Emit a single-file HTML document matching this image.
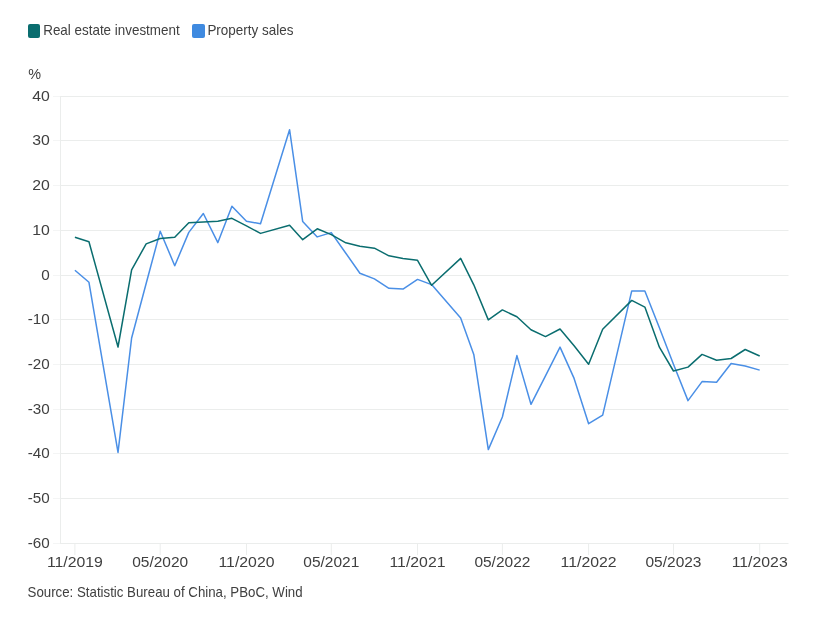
<!DOCTYPE html>
<html><head><meta charset="utf-8"><style>
html,body{margin:0;padding:0;background:#fff;}
body{width:817px;height:618px;overflow:hidden;position:relative;font-family:"Liberation Sans",Arial,sans-serif;color:#333;}
svg{position:absolute;left:0;top:0;will-change:transform;}
.g{stroke:#ebedec;stroke-width:1;}
.gt{stroke:#f4f5f5;stroke-width:1;}
text{font-family:"Liberation Sans",Arial,sans-serif;fill:#404040;}
.yl{font-size:14.4px;text-anchor:end;}
.xl{font-size:14.4px;text-anchor:middle;}
.lg{font-size:14.4px;}
</style></head><body>
<svg width="817" height="618" viewBox="0 0 817 618">
<rect x="28" y="24" width="12" height="14" rx="2" fill="#0a6d6f"/>
<text x="43.2" y="34.9" class="lg" textLength="136.5" lengthAdjust="spacingAndGlyphs">Real estate investment</text>
<rect x="192" y="24" width="13" height="14" rx="2" fill="#3f8ae0"/>
<text x="207.4" y="34.9" class="lg" textLength="86" lengthAdjust="spacingAndGlyphs">Property sales</text>
<text x="28.2" y="78.8" class="lg" textLength="12.8" lengthAdjust="spacingAndGlyphs">%</text>
<line x1="60" y1="96.5" x2="788.5" y2="96.5" class="g"/><line x1="53" y1="96.5" x2="60" y2="96.5" class="gt"/>
<line x1="60" y1="140.5" x2="788.5" y2="140.5" class="g"/><line x1="53" y1="140.5" x2="60" y2="140.5" class="gt"/>
<line x1="60" y1="185.5" x2="788.5" y2="185.5" class="g"/><line x1="53" y1="185.5" x2="60" y2="185.5" class="gt"/>
<line x1="60" y1="230.5" x2="788.5" y2="230.5" class="g"/><line x1="53" y1="230.5" x2="60" y2="230.5" class="gt"/>
<line x1="60" y1="275.5" x2="788.5" y2="275.5" class="g"/><line x1="53" y1="275.5" x2="60" y2="275.5" class="gt"/>
<line x1="60" y1="319.5" x2="788.5" y2="319.5" class="g"/><line x1="53" y1="319.5" x2="60" y2="319.5" class="gt"/>
<line x1="60" y1="364.5" x2="788.5" y2="364.5" class="g"/><line x1="53" y1="364.5" x2="60" y2="364.5" class="gt"/>
<line x1="60" y1="409.5" x2="788.5" y2="409.5" class="g"/><line x1="53" y1="409.5" x2="60" y2="409.5" class="gt"/>
<line x1="60" y1="453.5" x2="788.5" y2="453.5" class="g"/><line x1="53" y1="453.5" x2="60" y2="453.5" class="gt"/>
<line x1="60" y1="498.5" x2="788.5" y2="498.5" class="g"/><line x1="53" y1="498.5" x2="60" y2="498.5" class="gt"/>
<line x1="60" y1="543.5" x2="788.5" y2="543.5" class="g"/><line x1="53" y1="543.5" x2="60" y2="543.5" class="gt"/>

<line x1="60.5" y1="96" x2="60.5" y2="544" class="g"/>
<line x1="74.9" y1="544" x2="74.9" y2="555" class="g"/>
<line x1="160.2" y1="544" x2="160.2" y2="555" class="g"/>
<line x1="246.5" y1="544" x2="246.5" y2="555" class="g"/>
<line x1="331.3" y1="544" x2="331.3" y2="555" class="g"/>
<line x1="417.5" y1="544" x2="417.5" y2="555" class="g"/>
<line x1="502.4" y1="544" x2="502.4" y2="555" class="g"/>
<line x1="588.6" y1="544" x2="588.6" y2="555" class="g"/>
<line x1="673.5" y1="544" x2="673.5" y2="555" class="g"/>
<line x1="759.7" y1="544" x2="759.7" y2="555" class="g"/>

<text x="49.8" y="101.0" class="yl" textLength="17.6" lengthAdjust="spacingAndGlyphs">40</text>
<text x="49.8" y="145.0" class="yl" textLength="17.6" lengthAdjust="spacingAndGlyphs">30</text>
<text x="49.8" y="190.0" class="yl" textLength="17.6" lengthAdjust="spacingAndGlyphs">20</text>
<text x="49.8" y="235.0" class="yl" textLength="17.6" lengthAdjust="spacingAndGlyphs">10</text>
<text x="49.8" y="280.0" class="yl" textLength="8.5" lengthAdjust="spacingAndGlyphs">0</text>
<text x="49.8" y="324.0" class="yl" textLength="22.0" lengthAdjust="spacingAndGlyphs">-10</text>
<text x="49.8" y="369.0" class="yl" textLength="22.0" lengthAdjust="spacingAndGlyphs">-20</text>
<text x="49.8" y="414.0" class="yl" textLength="22.0" lengthAdjust="spacingAndGlyphs">-30</text>
<text x="49.8" y="458.0" class="yl" textLength="22.0" lengthAdjust="spacingAndGlyphs">-40</text>
<text x="49.8" y="503.0" class="yl" textLength="22.0" lengthAdjust="spacingAndGlyphs">-50</text>
<text x="49.8" y="548.0" class="yl" textLength="22.0" lengthAdjust="spacingAndGlyphs">-60</text>

<text x="74.9" y="567" class="xl" textLength="56" lengthAdjust="spacingAndGlyphs">11/2019</text>
<text x="160.2" y="567" class="xl" textLength="56" lengthAdjust="spacingAndGlyphs">05/2020</text>
<text x="246.5" y="567" class="xl" textLength="56" lengthAdjust="spacingAndGlyphs">11/2020</text>
<text x="331.3" y="567" class="xl" textLength="56" lengthAdjust="spacingAndGlyphs">05/2021</text>
<text x="417.5" y="567" class="xl" textLength="56" lengthAdjust="spacingAndGlyphs">11/2021</text>
<text x="502.4" y="567" class="xl" textLength="56" lengthAdjust="spacingAndGlyphs">05/2022</text>
<text x="588.6" y="567" class="xl" textLength="56" lengthAdjust="spacingAndGlyphs">11/2022</text>
<text x="673.5" y="567" class="xl" textLength="56" lengthAdjust="spacingAndGlyphs">05/2023</text>
<text x="759.7" y="567" class="xl" textLength="56" lengthAdjust="spacingAndGlyphs">11/2023</text>

<polyline points="74.90,270.2 88.96,282.3 118.02,452.4 131.62,338.0 146.15,283.5 160.21,231.2 174.74,265.7 188.80,232.4 203.33,213.5 217.86,242.6 231.92,206.2 246.45,221.2 260.51,223.7 289.57,129.7 302.70,221.6 317.23,236.9 331.29,232.6 345.82,253.2 359.88,273.2 374.41,278.9 388.94,288.3 403.00,289.1 417.53,279.4 431.60,284.6 460.66,318.0 473.78,354.4 488.31,449.6 502.37,417.0 516.90,355.6 530.96,404.3 545.49,375.8 560.03,347.1 574.09,378.4 588.62,423.7 602.68,415.1 631.74,290.9 644.86,290.9 659.39,327.8 673.46,364.2 687.99,400.6 702.05,381.6 716.58,382.3 731.11,363.5 745.17,366.0 759.70,370.1" fill="none" stroke="#4a8fe6" stroke-width="1.5" stroke-linejoin="round"/>
<polyline points="74.90,237.3 88.96,241.8 118.02,347.0 131.62,269.8 146.15,243.9 160.21,238.5 174.74,237.2 188.80,222.7 203.33,222.0 217.86,221.2 231.92,218.3 246.45,225.9 260.51,233.4 289.57,225.3 302.70,239.7 317.23,228.8 331.29,234.6 345.82,242.8 359.88,246.2 374.41,248.2 388.94,255.8 403.00,258.4 417.53,260.3 431.60,285.3 460.66,258.4 473.78,284.8 488.31,319.9 502.37,309.9 516.90,316.8 530.96,329.8 545.49,336.6 560.03,329.0 574.09,345.8 588.62,364.3 602.68,329.2 631.74,300.4 644.86,307.1 659.39,347.2 673.46,371.0 687.99,367.1 702.05,354.4 716.58,360.2 731.11,358.5 745.17,349.5 759.70,356.0" fill="none" stroke="#0a6d6f" stroke-width="1.5" stroke-linejoin="round"/>
<text x="27.6" y="596.9" class="lg" textLength="275" lengthAdjust="spacingAndGlyphs">Source: Statistic Bureau of China, PBoC, Wind</text>
</svg>
</body></html>
